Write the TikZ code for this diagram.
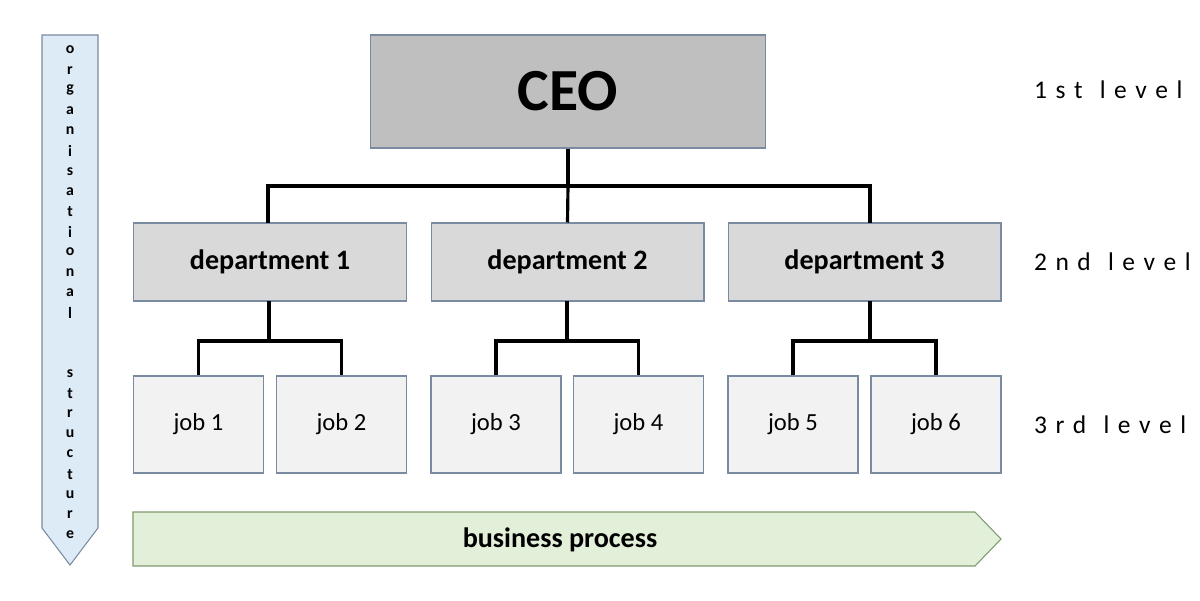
\documentclass[tikz,border=0pt]{standalone}
\usepackage{fontspec}
\setmainfont{Carlito}
\usetikzlibrary{calc}
\definecolor{bord}{HTML}{7A8AA0}
\definecolor{vfill}{HTML}{DDEBF7}
\definecolor{gfill}{HTML}{E2EFD9}
\definecolor{gbord}{HTML}{7F9A70}
\begin{document}
\begin{tikzpicture}[x=0.02cm,y=-0.02cm,
 box/.style={draw=bord,line width=0.6pt,inner sep=0},
 conn/.style={line width=1.8pt,black},
 lvl/.style={anchor=west,font=\fontsize{14.5}{17}\selectfont}]
\useasboundingbox (0,0) rectangle (1200,600);
% vertical arrow
\path[fill=vfill,draw=bord,line width=0.6pt] (42,35) -- (98,35) -- (98,528) -- (70,565) -- (42,528) -- cycle;
\foreach \c [count=\i] in {o,r,g,a,n,i,s,a,t,i,o,n,a,l,{},{},s,t,r,u,c,t,u,r,e}
  \node[font=\fontsize{9}{10}\selectfont\bfseries] at (70,{50+(\i-1)*20.2}) {\c};
% CEO
\node[box,fill=black!25,minimum width=7.92cm,minimum height=2.26cm] (ceo) at (568,91.5) {\fontsize{34}{40}\selectfont\bfseries CEO};
% departments
\foreach \n/\x in {1/270,2/567.5,3/864.5}
  \node[box,fill=black!15,minimum width=5.46cm,minimum height=1.56cm] (d\n) at (\x,262) {\fontsize{16}{19}\selectfont\bfseries department \n};
% jobs
\foreach \n/\x in {1/198.5,2/341.5,3/496,4/638.5,5/793,6/936}
  \node[box,fill=black!5,minimum width=2.6cm,minimum height=1.94cm] (j\n) at (\x,424.5) {\fontsize{14}{17}\selectfont job \n};
% connectors
\coordinate (h) at (568,186);
\coordinate (t1) at (268,223);
\coordinate (t3) at (870,223);
\draw[conn] (ceo.south) -- (h);
\draw[conn] (t1) |- (h) -| (t3);
\draw[conn] (h) -- (d2.north);
\foreach \d/\a/\b/\x in {1/1/2/269,2/3/4/567,3/5/6/870}{
  \coordinate (s\d) at (\x,301);
  \coordinate (m\d) at (\x,341);
  \draw[conn] (s\d) -- (m\d);
  \draw[conn] (j\a.north) |- (m\d) -| (j\b.north);
}
% business process
\path[fill=gfill,draw=gbord,line width=0.6pt] (133,512) -- (975,512) -- (1001,539) -- (975,566) -- (133,566) -- cycle;
\node[font=\fontsize{16}{19}\selectfont\bfseries] at (560,540) {business process};
% levels
\node[lvl] at (1028,90) {1\,\,s\,\,t\ \ \ l\,\,e\,\,v\,\,e\,\,l};
\node[lvl] at (1028,262) {2\,\,n\,\,d\ \ \ l\,\,e\,\,v\,\,e\,\,l};
\node[lvl] at (1028,425) {3\,\,r\,\,d\ \ \ l\,\,e\,\,v\,\,e\,\,l};
\end{tikzpicture}
\end{document}
